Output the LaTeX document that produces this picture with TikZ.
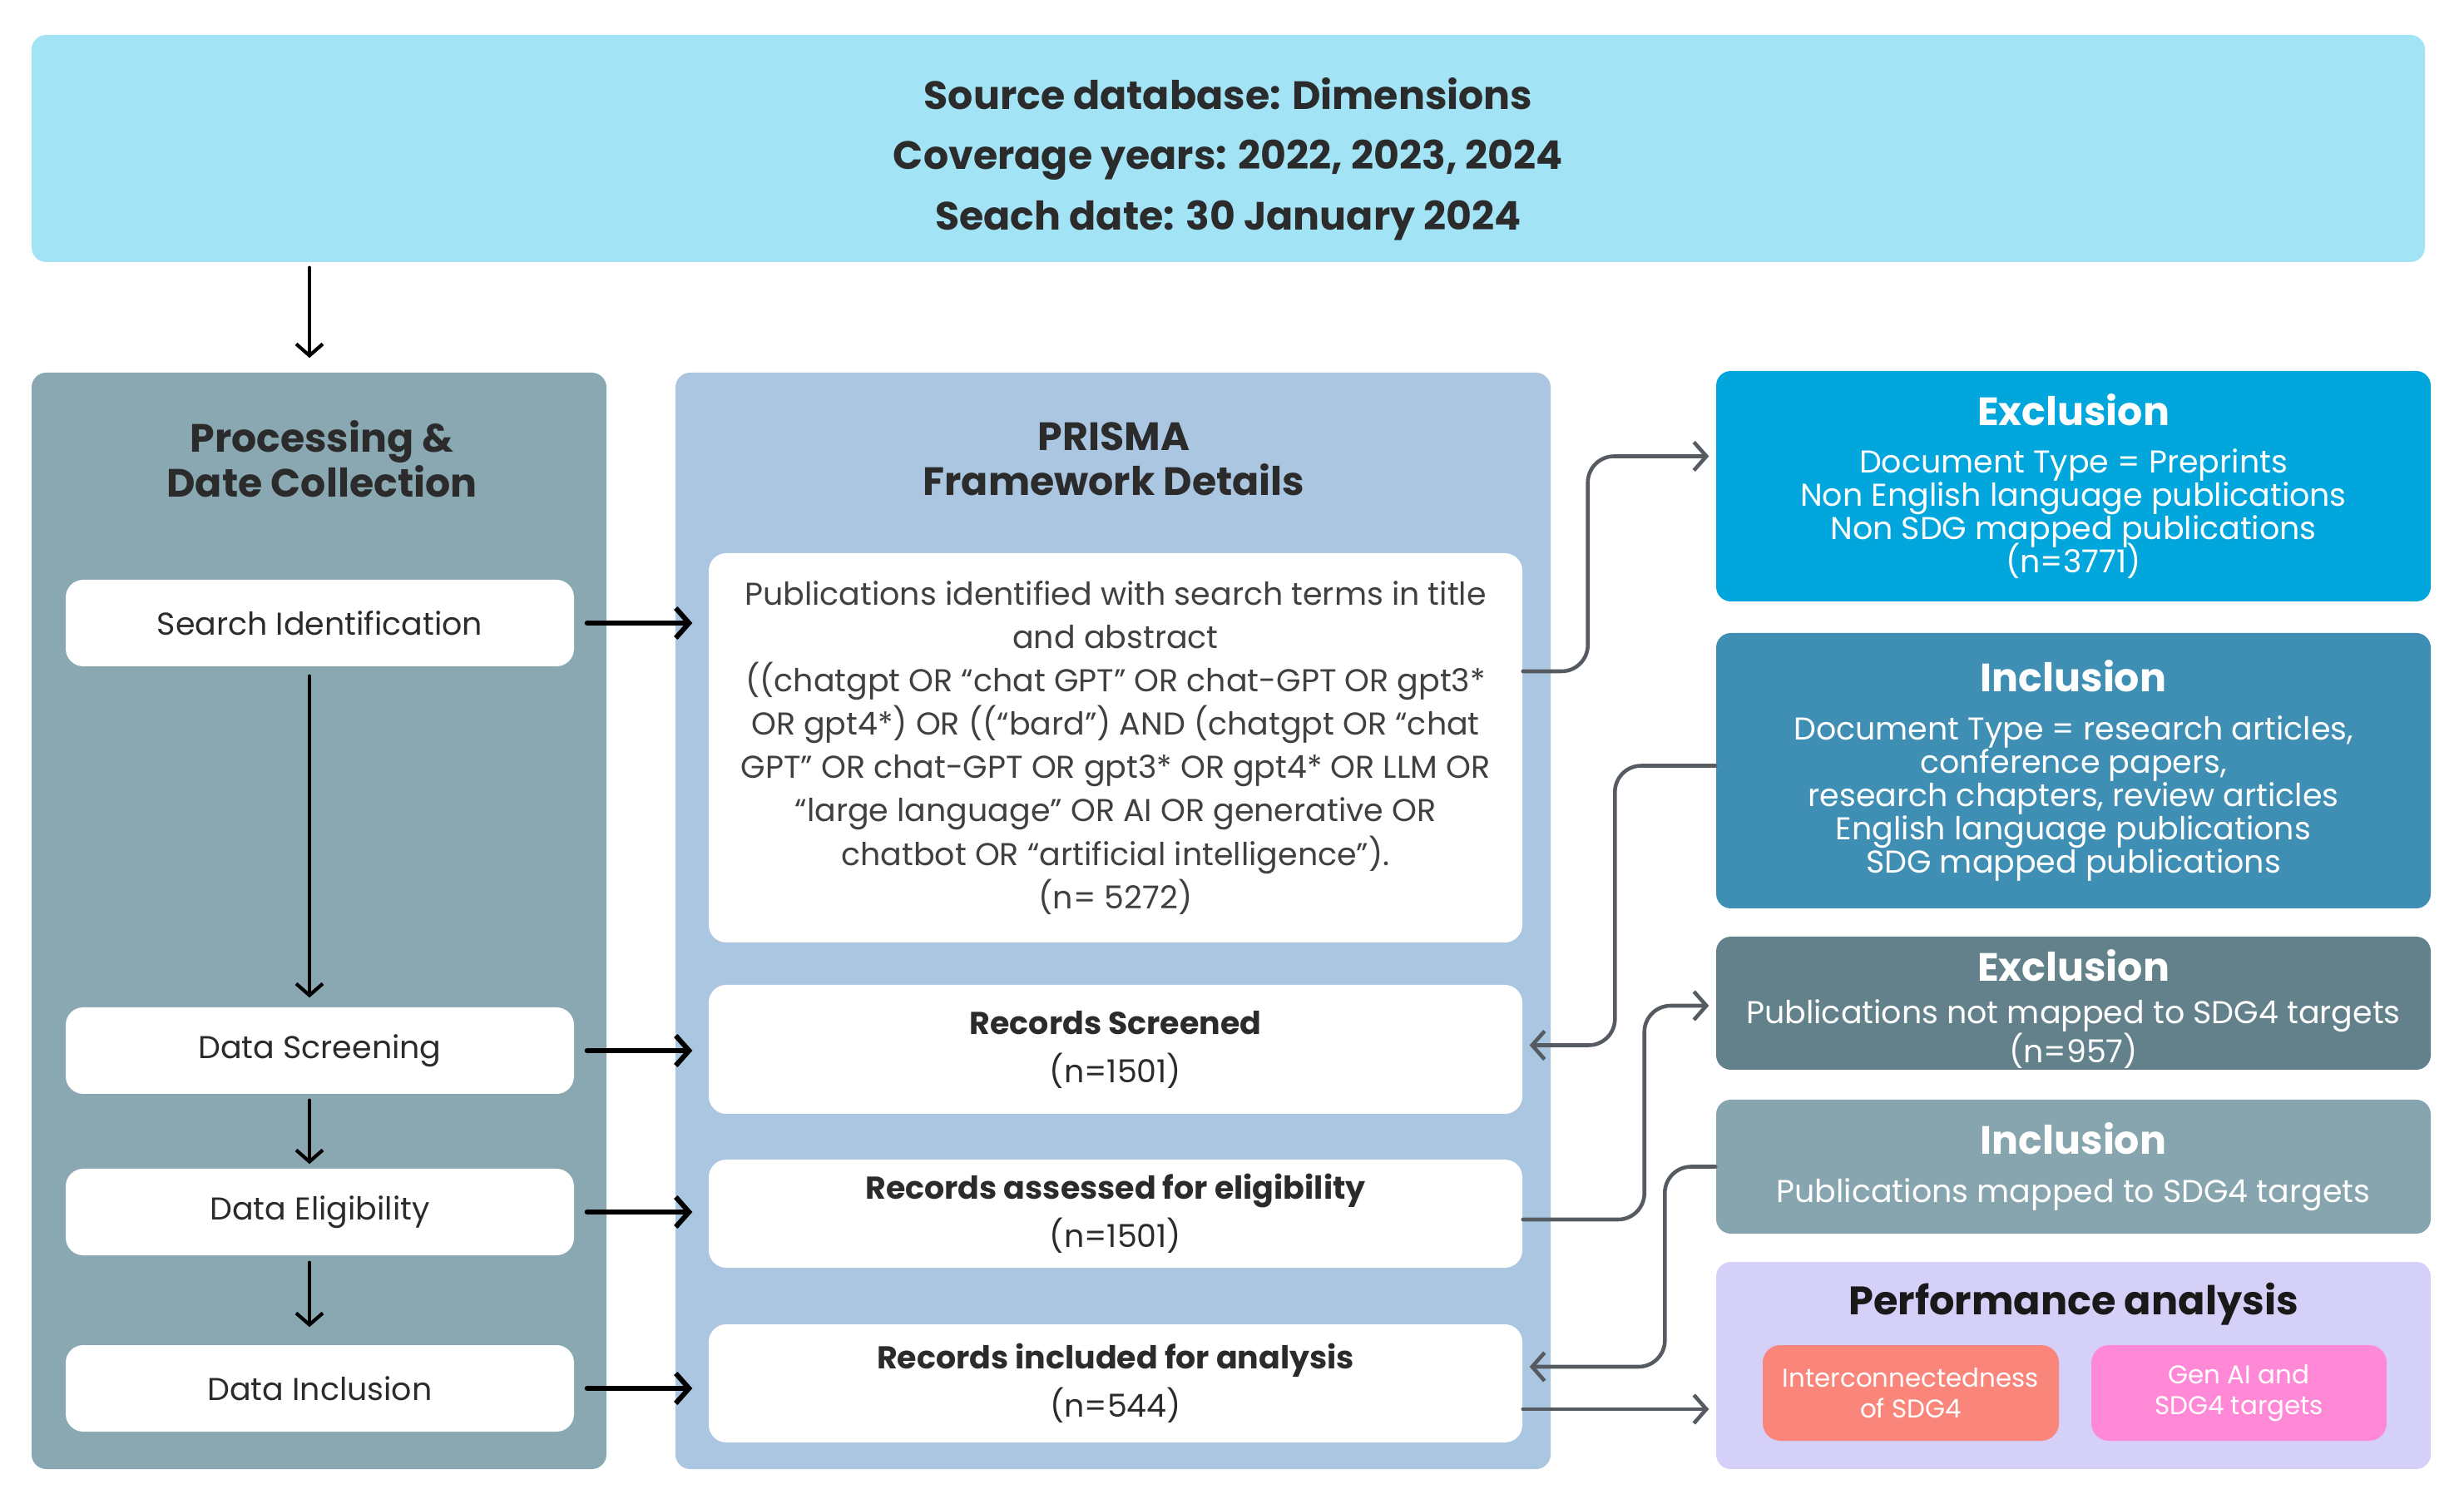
\documentclass[tikz,border=0pt]{standalone}
\usepackage{fontspec}
\setmainfont{Poppins}
\usetikzlibrary{arrows.meta,calc}
\definecolor{prsBanner}{HTML}{A3E3F6}
\definecolor{prsLeft}{HTML}{89A8B1}
\definecolor{prsMid}{HTML}{AAC6E1}
\definecolor{prsExcA}{HTML}{00A6DC}
\definecolor{prsIncA}{HTML}{3F8FB5}
\definecolor{prsExcB}{HTML}{62818A}
\definecolor{prsIncB}{HTML}{87A5AE}
\definecolor{prsPerf}{HTML}{D4D0F8}
\definecolor{prsCoral}{HTML}{FA857B}
\definecolor{prsPink}{HTML}{FF88D7}
\definecolor{prsText}{HTML}{2B2B2B}
\definecolor{prsLine}{HTML}{555B60}
\newcommand{\prsLineW}{1.7pt}
\newcommand{\prsLineWthin}{1.2pt}
\newcommand{\prsLineWconn}{1.3pt}
\newcommand{\prsHead}{\fontsize{13.5}{16}\selectfont\bfseries}
\newcommand{\prsBody}{\fontsize{10.8}{11.4}\selectfont\lineskiplimit=-20pt}
\tikzset{
  panel/.style={rounded corners=5pt, inner sep=0pt},
  whitebox/.style={fill=white, rounded corners=6pt, inner sep=0pt, align=center, text=prsText},
  outbox/.style={rounded corners=5pt, inner sep=0pt, align=center, text=white, font=\prsBody},
  hflow/.style={black, line width=\prsLineW, shorten <=1.5mm, shorten >=1.9mm,
                -{Straight Barb[length=1.6mm,width=3.6mm]}},
  vflow/.style={black, line width=\prsLineWthin,
                -{Straight Barb[length=1.4mm,width=3.2mm]}},
  conn/.style={prsLine, line width=\prsLineWconn, rounded corners=9pt, shorten >=0.8mm,
               -{Straight Barb[length=1.5mm,width=3.4mm]}},
}
\begin{document}
\begin{tikzpicture}[line cap=round, line join=round]
  \useasboundingbox (0,0) rectangle (29.62,18.01);

  % ===== Source banner =====
  \node[panel, fill=prsBanner, minimum width=28.77cm, minimum height=2.73cm] (banner) at (14.765,16.225) {};
  \node[align=center, text=prsText, font=\fontsize{13.5}{20.6}\selectfont\bfseries]
    (bannertext) at (14.765,16.10)
    {Source database: Dimensions\\Coverage years: 2022, 2023, 2024\\Seach date: 30 January 2024};

  % ===== Left column: processing =====
  \node[panel, fill=prsLeft, minimum width=6.91cm, minimum height=13.18cm] (lpanel) at (3.835,6.94) {};
  \node[align=center, text=prsText, font=\fontsize{13.5}{15.4}\selectfont\bfseries] (ltitle) at (3.87,12.49)
    {Processing \&\\Date Collection};

  \node[whitebox, minimum width=6.11cm, minimum height=1.04cm, font=\fontsize{10.8}{12}\selectfont] (si) at (3.845,10.52) {Search Identification};
  \node[whitebox, minimum width=6.11cm, minimum height=1.04cm, font=\fontsize{10.8}{12}\selectfont] (ds) at (3.845,5.38) {Data Screening};
  \node[whitebox, minimum width=6.11cm, minimum height=1.04cm, font=\fontsize{10.8}{12}\selectfont] (de) at (3.845,3.44) {Data Eligibility};
  \node[whitebox, minimum width=6.11cm, minimum height=1.04cm, font=\fontsize{10.8}{12}\selectfont] (di) at (3.845,1.32) {Data Inclusion};

  % ===== Middle column: PRISMA =====
  \node[panel, fill=prsMid, minimum width=10.52cm, minimum height=13.18cm] (mpanel) at (13.38,6.94) {};
  \node[align=center, text=prsText, font=\fontsize{13.5}{15.4}\selectfont\bfseries] (mtitle) at (13.39,12.49)
    {PRISMA\\Framework Details};

  \node[whitebox, minimum width=9.78cm, minimum height=4.68cm, text=prsText!90, font=\fontsize{10.8}{14.8}\selectfont] (pubs) at (13.41,9.02)
    {Publications identified with search terms in title\\
     and abstract\\
     ((chatgpt OR “chat GPT” OR chat-GPT OR gpt3*\\
     OR gpt4*) OR ((“bard”) AND (chatgpt OR “chat\\
     GPT” OR chat-GPT OR gpt3* OR gpt4* OR LLM OR\\
     “large language” OR AI OR generative OR\\
     chatbot OR “artificial intelligence”).\\
     (n= 5272)};
  \node[whitebox, minimum width=9.78cm, minimum height=1.55cm, font=\fontsize{10.8}{16.5}\selectfont] (scr) at (13.41,5.395)
    {\textbf{Records Screened}\\(n=1501)};
  \node[whitebox, minimum width=9.78cm, minimum height=1.30cm, font=\fontsize{10.8}{16.5}\selectfont] (elig) at (13.41,3.42)
    {\textbf{Records assessed for eligibility}\\(n=1501)};
  \node[whitebox, minimum width=9.78cm, minimum height=1.42cm, font=\fontsize{10.8}{16.5}\selectfont] (incl) at (13.41,1.38)
    {\textbf{Records included for analysis}\\(n=544)};

  % ===== Right column: outcomes =====
  \node[outbox, fill=prsExcA, minimum width=8.59cm, minimum height=2.77cm] (exc1) at (24.925,12.165)
    {{\prsHead Exclusion}\\[5pt]
     Document Type = Preprints\\
     Non English language publications\\
     Non SDG mapped publications\\
     (n=3771)};
  \node[outbox, fill=prsIncA, minimum width=8.59cm, minimum height=3.31cm] (inc1) at (24.925,8.745)
    {{\prsHead Inclusion}\\[5pt]
     Document Type = research articles,\\
     conference papers,\\
     research chapters, review articles\\
     English language publications\\
     SDG mapped publications};
  \node[outbox, fill=prsExcB, minimum width=8.59cm, minimum height=1.60cm] (exc2) at (24.925,5.95)
    {{\prsHead\rule{0pt}{15pt}Exclusion}\\[3pt]
     Publications not mapped to SDG4 targets\\[2pt]
     (n=957)};
  \node[outbox, fill=prsIncB, minimum width=8.59cm, minimum height=1.61cm] (inc2) at (24.925,3.985)
    {{\prsHead Inclusion}\\[5pt]
     Publications mapped to SDG4 targets};

  \node[panel, fill=prsPerf, minimum width=8.59cm, minimum height=2.49cm] (perf) at (24.925,1.595) {};
  \node[text=black!90, font=\fontsize{13.6}{16}\selectfont\bfseries] (perfhead) at (24.925,2.33) {Performance analysis};
  \node[outbox, fill=prsCoral, minimum width=3.56cm, minimum height=1.15cm, rounded corners=6pt,
        font=\fontsize{8.8}{10.6}\selectfont] (inter) at (22.97,1.265) {Interconnectedness\\of SDG4};
  \node[outbox, fill=prsPink, minimum width=3.55cm, minimum height=1.15cm, rounded corners=6pt,
        font=\fontsize{8.8}{10.6}\selectfont] (genai) at (26.915,1.265) {Gen AI and\\SDG4 targets};

  % ===== Left spine arrows =====
  \coordinate (spine) at (3.72,0);
  \draw[vflow, shorten <=0.6mm, shorten >=1.7mm] (banner.south -| spine) -- (lpanel.north -| spine);
  \draw[vflow, shorten <=1.1mm, shorten >=1.1mm] (si.south -| spine) -- (ds.north -| spine);
  \draw[vflow, shorten <=0.7mm, shorten >=0.5mm] (ds.south -| spine) -- (de.north -| spine);
  \draw[vflow, shorten <=0.8mm, shorten >=2.1mm] (de.south -| spine) -- (di.north -| spine);

  % ===== Steps into PRISMA =====
  \draw[hflow] (si.east) -- (si.east -| pubs.west);
  \draw[hflow] (ds.east) -- (ds.east -| scr.west);
  \draw[hflow] (de.east) -- (de.east -| elig.west);
  \draw[hflow] (di.east) -- (di.east -| incl.west);

  % ===== Outcome connectors =====
  \draw[conn] ([yshift=9.2mm]pubs.east) -- ++(0.78,0) |- ([yshift=3.6mm]exc1.west);
  \draw[conn] ([yshift=0.6mm]inc1.west) -- ++(-1.21,0) |- ([yshift=0.5mm]scr.east);
  \draw[conn] ([yshift=-0.7mm]elig.east) -- ++(1.46,0) |- ([yshift=-0.3mm]exc2.west);
  \draw[conn] (inc2.west) -- ++(-0.61,0) |- ([yshift=2mm]incl.east);
  \coordinate (incl-out) at ([yshift=-3.1mm]incl.east);
  \draw[conn] (incl-out) -- (incl-out -| perf.west);
\end{tikzpicture}
\end{document}
